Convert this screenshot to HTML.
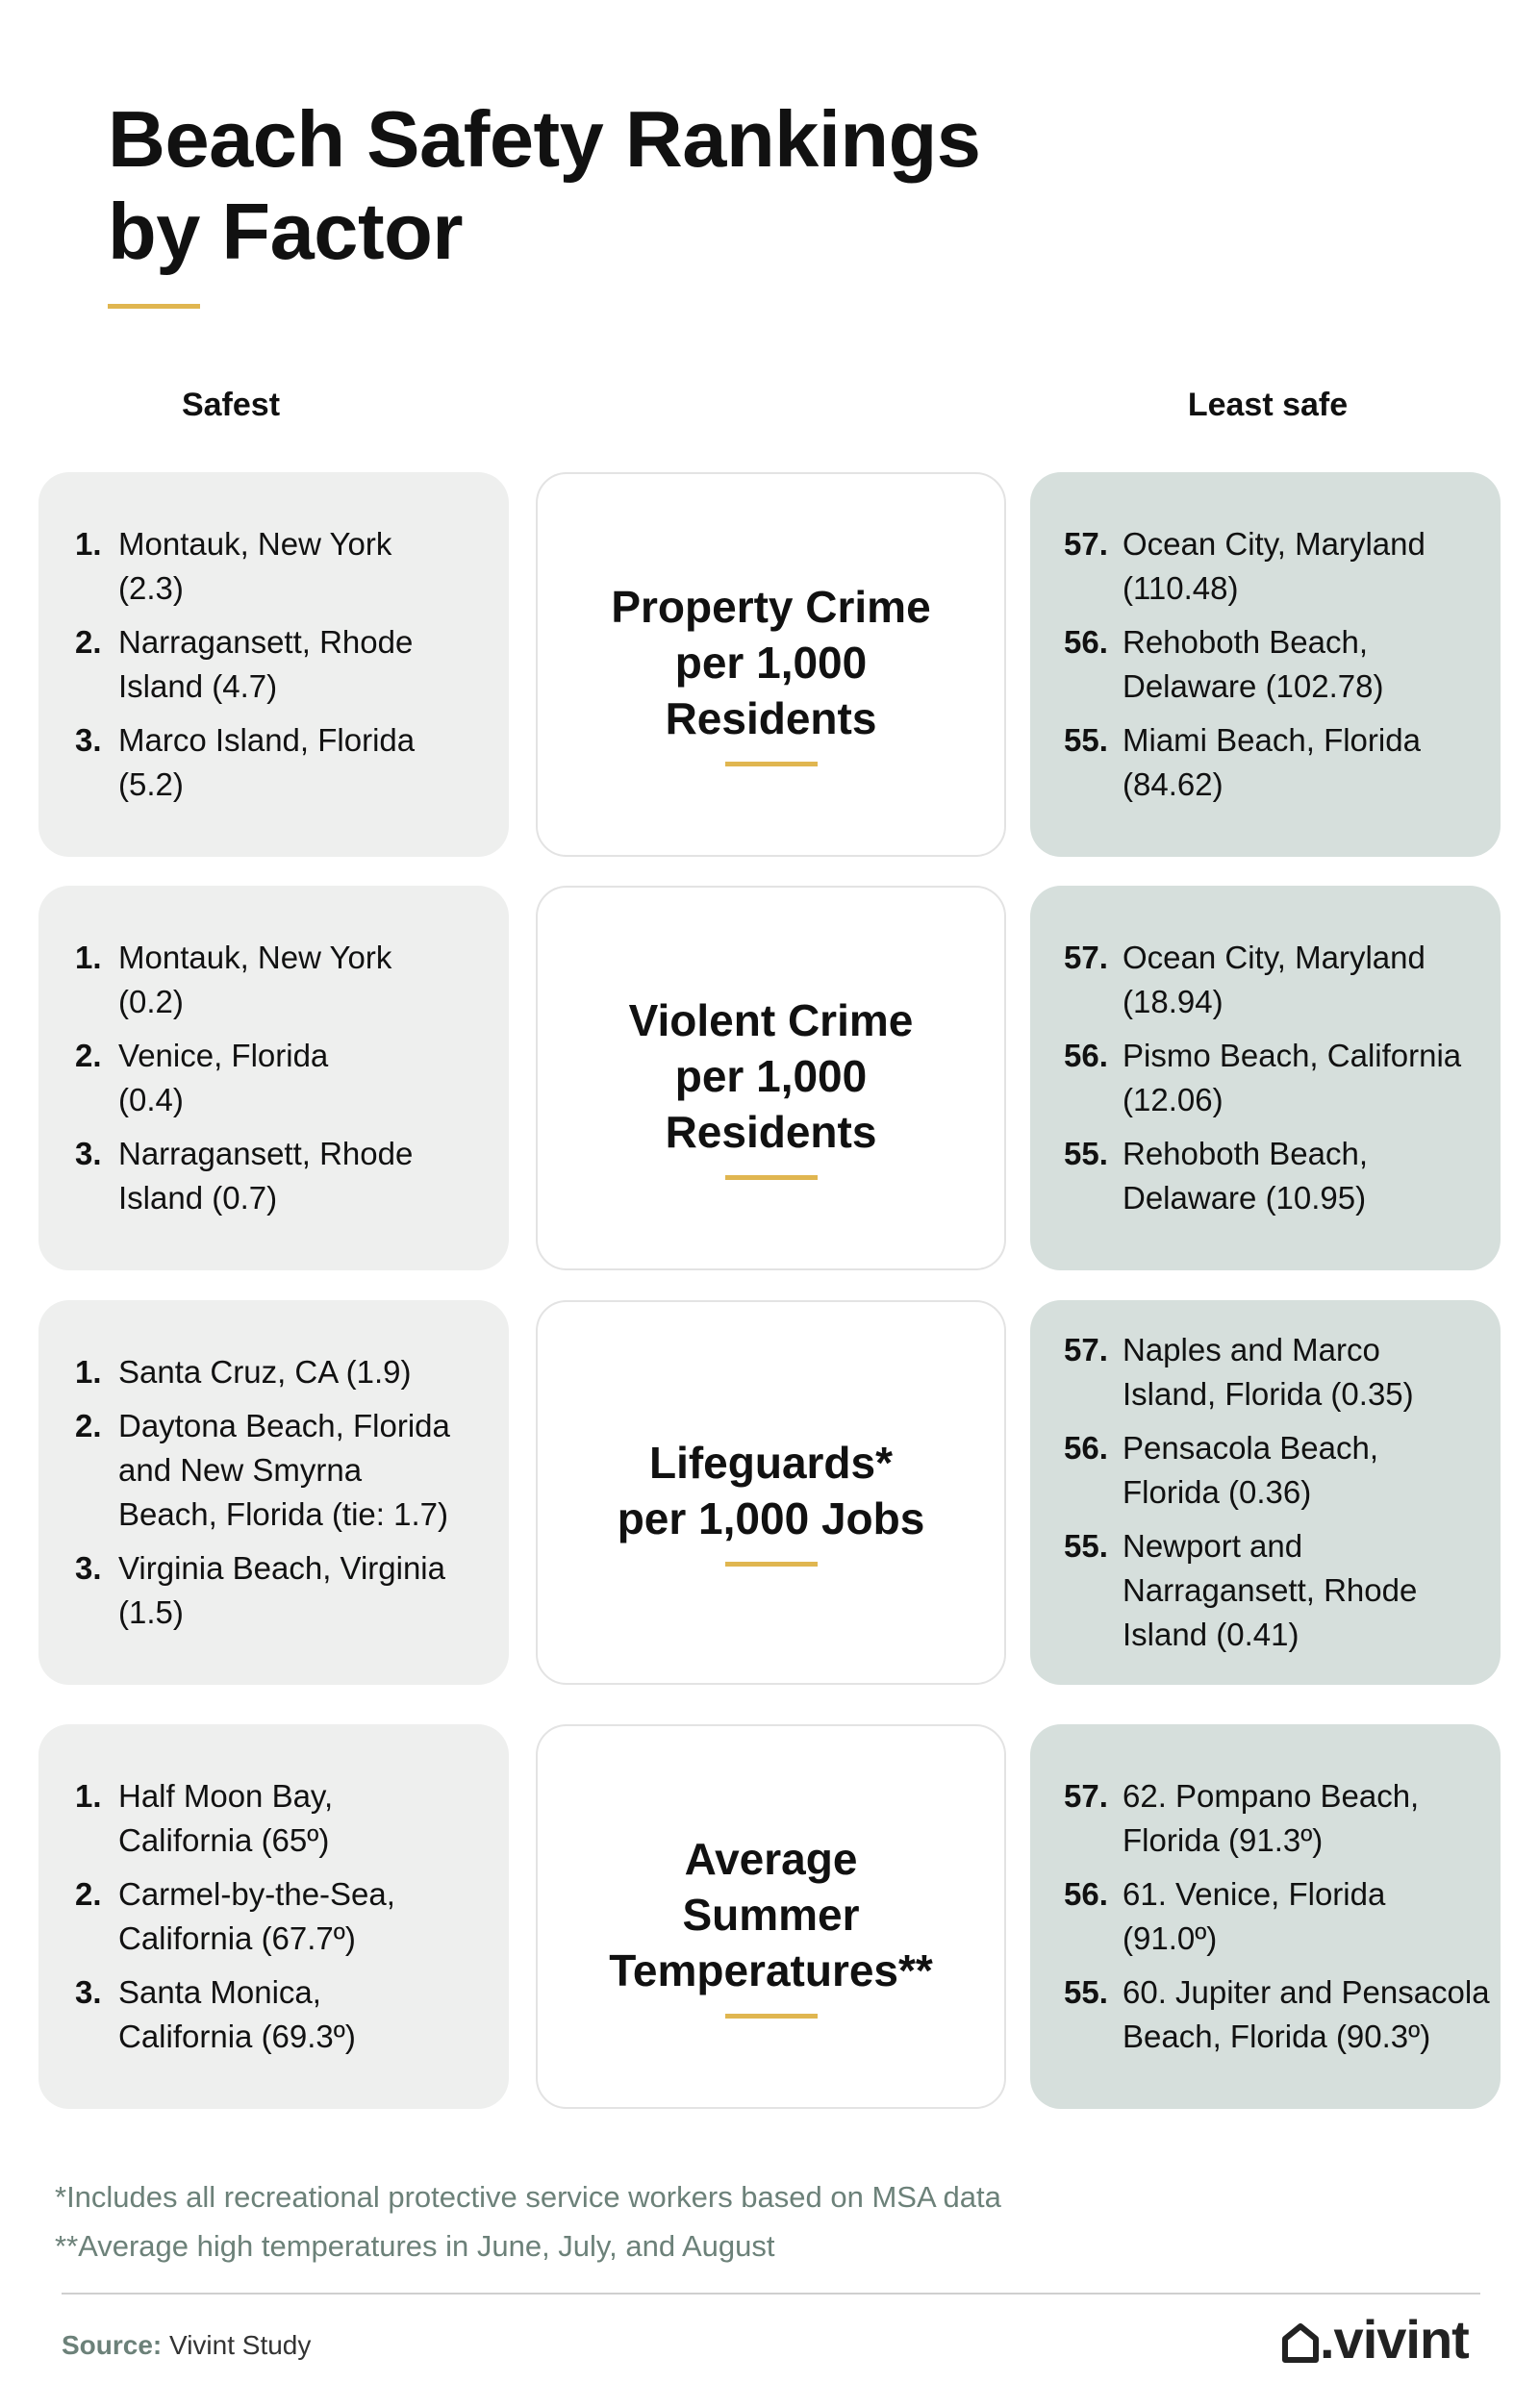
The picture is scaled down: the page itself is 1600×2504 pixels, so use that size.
<!DOCTYPE html>
<html><head><meta charset="utf-8">
<style>
*{margin:0;padding:0;box-sizing:border-box}
body{width:1600px;height:2504px;background:#fff;font-family:"Liberation Sans",Arial,sans-serif;color:#111;position:relative;overflow:hidden}
.abs{position:absolute}
h1{position:absolute;left:112px;top:97px;font-size:83px;line-height:96px;font-weight:bold;letter-spacing:-0.5px;color:#111}
.gold{background:#e0b650;height:5px;width:96px}
.colh{font-size:34px;font-weight:bold;top:402px;text-align:center}
.card{position:absolute;width:489px;height:400px;border-radius:32px;display:flex;flex-direction:column;justify-content:center}
.left{left:40px;background:#eeefee;padding-left:38px;padding-right:20px}
.right{left:1071px;background:#d6dfdc;padding-left:35px;padding-right:10px}
.mid{left:557px;background:#fff;border:2px solid #e3e3e3;align-items:center;text-align:center;padding-top:16px}
.item{display:flex;font-size:33px;line-height:46px;margin:5px 0}
.item b{display:inline-block;flex:none}
.left .item b{width:45px}
.right .item b{width:61px}
.mt{font-size:46px;line-height:58px;font-weight:bold}
.mid .gold{margin-top:16px}
.fn{left:57px;font-size:31px;color:#6c8179}
</style></head><body>
<h1>Beach Safety Rankings<br>by Factor</h1>
<div class="abs gold" style="left:112px;top:316px"></div>
<div class="abs colh" style="left:140px;width:200px">Safest</div>
<div class="abs colh" style="left:1168px;width:300px">Least safe</div>

<div class="card left" style="top:491px">
<div class="item"><b>1.</b><span>Montauk, New York<br>(2.3)</span></div>
<div class="item"><b>2.</b><span>Narragansett, Rhode<br>Island (4.7)</span></div>
<div class="item"><b>3.</b><span>Marco Island, Florida<br>(5.2)</span></div>
</div>
<div class="card mid" style="top:491px">
<div class="mt">Property Crime<br>per 1,000<br>Residents</div><div class="gold"></div></div>
<div class="card right" style="top:491px">
<div class="item"><b>57.</b><span>Ocean City, Maryland<br>(110.48)</span></div>
<div class="item"><b>56.</b><span>Rehoboth Beach,<br>Delaware (102.78)</span></div>
<div class="item"><b>55.</b><span>Miami Beach, Florida<br>(84.62)</span></div>
</div>

<div class="card left" style="top:921px">
<div class="item"><b>1.</b><span>Montauk, New York<br>(0.2)</span></div>
<div class="item"><b>2.</b><span>Venice, Florida<br>(0.4)</span></div>
<div class="item"><b>3.</b><span>Narragansett, Rhode<br>Island (0.7)</span></div>
</div>
<div class="card mid" style="top:921px">
<div class="mt">Violent Crime<br>per 1,000<br>Residents</div><div class="gold"></div></div>
<div class="card right" style="top:921px">
<div class="item"><b>57.</b><span>Ocean City, Maryland<br>(18.94)</span></div>
<div class="item"><b>56.</b><span>Pismo Beach, California<br>(12.06)</span></div>
<div class="item"><b>55.</b><span>Rehoboth Beach,<br>Delaware (10.95)</span></div>
</div>

<div class="card left" style="top:1352px">
<div class="item"><b>1.</b><span>Santa Cruz, CA (1.9)</span></div>
<div class="item"><b>2.</b><span>Daytona Beach, Florida<br>and New Smyrna<br>Beach, Florida (tie: 1.7)</span></div>
<div class="item"><b>3.</b><span>Virginia Beach, Virginia<br>(1.5)</span></div>
</div>
<div class="card mid" style="top:1352px">
<div class="mt">Lifeguards*<br>per 1,000 Jobs</div><div class="gold"></div></div>
<div class="card right" style="top:1352px">
<div class="item"><b>57.</b><span>Naples and Marco<br>Island, Florida (0.35)</span></div>
<div class="item"><b>56.</b><span>Pensacola Beach,<br>Florida (0.36)</span></div>
<div class="item"><b>55.</b><span>Newport and<br>Narragansett, Rhode<br>Island (0.41)</span></div>
</div>

<div class="card left" style="top:1793px">
<div class="item"><b>1.</b><span>Half Moon Bay,<br>California (65º)</span></div>
<div class="item"><b>2.</b><span>Carmel-by-the-Sea,<br>California (67.7º)</span></div>
<div class="item"><b>3.</b><span>Santa Monica,<br>California (69.3º)</span></div>
</div>
<div class="card mid" style="top:1793px">
<div class="mt">Average<br>Summer<br>Temperatures**</div><div class="gold"></div></div>
<div class="card right" style="top:1793px">
<div class="item"><b>57.</b><span>62. Pompano Beach,<br>Florida (91.3º)</span></div>
<div class="item"><b>56.</b><span>61. Venice, Florida<br>(91.0º)</span></div>
<div class="item"><b>55.</b><span>60. Jupiter and Pensacola<br>Beach, Florida (90.3º)</span></div>
</div>

<div class="abs fn" style="top:2267px">*Includes all recreational protective service workers based on MSA data</div>
<div class="abs fn" style="top:2318px">**Average high temperatures in June, July, and August</div>
<div class="abs" style="left:64px;top:2384px;width:1475px;height:2px;background:#cfcfcf"></div>
<div class="abs" style="left:64px;top:2423px;font-size:28px;color:#333"><b style="color:#6c8179">Source:</b> Vivint Study</div>
<div class="abs" style="left:1332px;top:2408px;display:flex;align-items:flex-end">
<svg width="40" height="44" viewBox="0 0 40 44"><path d="M4 40 V18 L20 5 L36 18 V40 Z" fill="none" stroke="#222" stroke-width="6" stroke-linejoin="round"/></svg>
<span style="font-size:56px;font-weight:bold;line-height:50px;color:#222;letter-spacing:-1px">.vivint</span></div>
</body></html>
